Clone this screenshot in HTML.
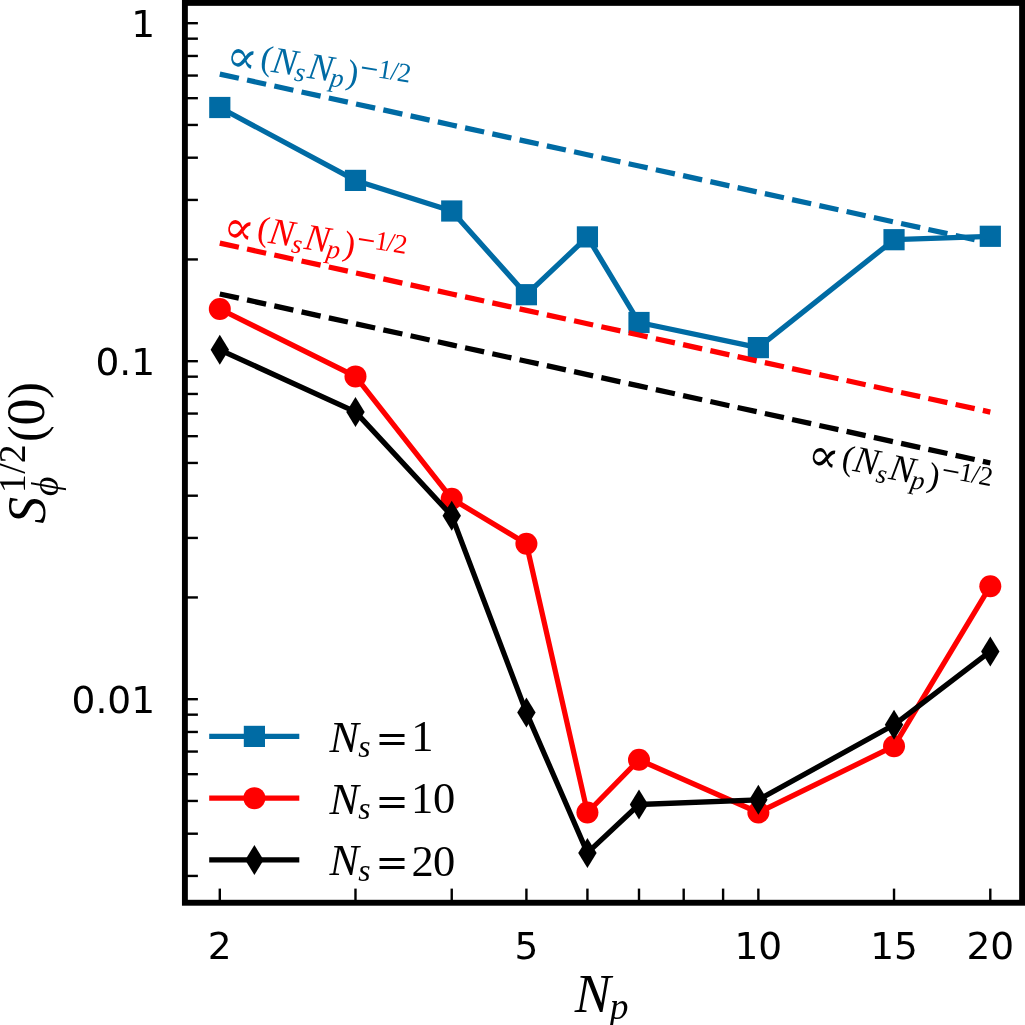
<!DOCTYPE html>
<html><head><meta charset="utf-8"><style>
html,body{margin:0;padding:0;background:#fff;}
svg{display:block;}
</style></head><body>
<svg width="1025" height="1025" viewBox="0 0 1025 1025">
<rect width="1025" height="1025" fill="#fff"/>
<polyline points="219.80,107.50 355.48,180.40 451.74,211.00 526.41,294.70 587.42,236.90 639.00,322.50 758.36,347.60 894.03,239.70 990.30,236.30" fill="none" stroke="#006BA4" stroke-width="5.26" stroke-linejoin="round" stroke-linecap="butt"/><rect x="209.20" y="96.90" width="21.20" height="21.20" fill="#006BA4"/><rect x="344.88" y="169.80" width="21.20" height="21.20" fill="#006BA4"/><rect x="441.14" y="200.40" width="21.20" height="21.20" fill="#006BA4"/><rect x="515.81" y="284.10" width="21.20" height="21.20" fill="#006BA4"/><rect x="576.82" y="226.30" width="21.20" height="21.20" fill="#006BA4"/><rect x="628.40" y="311.90" width="21.20" height="21.20" fill="#006BA4"/><rect x="747.76" y="337.00" width="21.20" height="21.20" fill="#006BA4"/><rect x="883.43" y="229.10" width="21.20" height="21.20" fill="#006BA4"/><rect x="979.70" y="225.70" width="21.20" height="21.20" fill="#006BA4"/>
<polyline points="219.80,74.07 355.48,103.83 451.74,124.95 526.41,141.33 587.42,154.71 639.00,166.02 758.36,192.20 894.03,221.96 990.30,243.07" fill="none" stroke="#006BA4" stroke-width="5.26" stroke-dasharray="19.5 8.4" stroke-linecap="butt"/>
<polyline points="219.80,309.00 355.48,376.40 451.74,498.70 526.41,543.80 587.42,812.50 639.00,759.80 758.36,812.50 894.03,746.20 990.30,586.20" fill="none" stroke="#FF0000" stroke-width="5.26" stroke-linejoin="round" stroke-linecap="butt"/><circle cx="219.80" cy="309.00" r="11" fill="#FF0000"/><circle cx="355.48" cy="376.40" r="11" fill="#FF0000"/><circle cx="451.74" cy="498.70" r="11" fill="#FF0000"/><circle cx="526.41" cy="543.80" r="11" fill="#FF0000"/><circle cx="587.42" cy="812.50" r="11" fill="#FF0000"/><circle cx="639.00" cy="759.80" r="11" fill="#FF0000"/><circle cx="758.36" cy="812.50" r="11" fill="#FF0000"/><circle cx="894.03" cy="746.20" r="11" fill="#FF0000"/><circle cx="990.30" cy="586.20" r="11" fill="#FF0000"/>
<polyline points="219.80,243.07 355.48,272.83 451.74,293.95 526.41,310.33 587.42,323.71 639.00,335.02 758.36,361.20 894.03,390.96 990.30,412.07" fill="none" stroke="#FF0000" stroke-width="5.26" stroke-dasharray="19.5 8.4" stroke-linecap="butt"/>
<polyline points="219.80,349.85 355.48,411.90 451.74,515.70 526.41,712.60 587.42,852.90 639.00,804.50 758.36,799.80 894.03,724.80 990.30,651.40" fill="none" stroke="#000000" stroke-width="5.26" stroke-linejoin="round" stroke-linecap="butt"/><polygon points="219.80,334.85 229.00,349.85 219.80,364.85 210.60,349.85" fill="#000000"/><polygon points="355.48,396.90 364.68,411.90 355.48,426.90 346.28,411.90" fill="#000000"/><polygon points="451.74,500.70 460.94,515.70 451.74,530.70 442.54,515.70" fill="#000000"/><polygon points="526.41,697.60 535.61,712.60 526.41,727.60 517.21,712.60" fill="#000000"/><polygon points="587.42,837.90 596.62,852.90 587.42,867.90 578.22,852.90" fill="#000000"/><polygon points="639.00,789.50 648.20,804.50 639.00,819.50 629.80,804.50" fill="#000000"/><polygon points="758.36,784.80 767.56,799.80 758.36,814.80 749.16,799.80" fill="#000000"/><polygon points="894.03,709.80 903.23,724.80 894.03,739.80 884.83,724.80" fill="#000000"/><polygon points="990.30,636.40 999.50,651.40 990.30,666.40 981.10,651.40" fill="#000000"/>
<polyline points="219.80,293.95 355.48,323.71 451.74,344.82 526.41,361.20 587.42,374.58 639.00,385.90 758.36,412.07 894.03,441.83 990.30,462.95" fill="none" stroke="#000000" stroke-width="5.26" stroke-dasharray="19.5 8.4" stroke-linecap="butt"/>
<g stroke="#000" stroke-width="2.4"><line x1="187" y1="875.93" x2="197.9" y2="875.93"/><line x1="187" y1="833.70" x2="197.9" y2="833.70"/><line x1="187" y1="800.95" x2="197.9" y2="800.95"/><line x1="187" y1="774.18" x2="197.9" y2="774.18"/><line x1="187" y1="751.56" x2="197.9" y2="751.56"/><line x1="187" y1="731.96" x2="197.9" y2="731.96"/><line x1="187" y1="714.67" x2="197.9" y2="714.67"/><line x1="187" y1="699.20" x2="197.9" y2="699.20"/><line x1="187" y1="597.45" x2="197.9" y2="597.45"/><line x1="187" y1="537.93" x2="197.9" y2="537.93"/><line x1="187" y1="495.70" x2="197.9" y2="495.70"/><line x1="187" y1="462.95" x2="197.9" y2="462.95"/><line x1="187" y1="436.18" x2="197.9" y2="436.18"/><line x1="187" y1="413.56" x2="197.9" y2="413.56"/><line x1="187" y1="393.96" x2="197.9" y2="393.96"/><line x1="187" y1="376.67" x2="197.9" y2="376.67"/><line x1="187" y1="361.20" x2="197.9" y2="361.20"/><line x1="187" y1="259.45" x2="197.9" y2="259.45"/><line x1="187" y1="199.93" x2="197.9" y2="199.93"/><line x1="187" y1="157.70" x2="197.9" y2="157.70"/><line x1="187" y1="124.95" x2="197.9" y2="124.95"/><line x1="187" y1="98.18" x2="197.9" y2="98.18"/><line x1="187" y1="75.56" x2="197.9" y2="75.56"/><line x1="187" y1="55.96" x2="197.9" y2="55.96"/><line x1="187" y1="38.67" x2="197.9" y2="38.67"/><line x1="187" y1="23.20" x2="197.9" y2="23.20"/><line x1="219.80" y1="900" x2="219.80" y2="888.6"/><line x1="355.48" y1="900" x2="355.48" y2="888.6"/><line x1="451.74" y1="900" x2="451.74" y2="888.6"/><line x1="526.41" y1="900" x2="526.41" y2="888.6"/><line x1="587.42" y1="900" x2="587.42" y2="888.6"/><line x1="639.00" y1="900" x2="639.00" y2="888.6"/><line x1="683.69" y1="900" x2="683.69" y2="888.6"/><line x1="723.10" y1="900" x2="723.10" y2="888.6"/><line x1="758.36" y1="900" x2="758.36" y2="888.6"/><line x1="894.03" y1="900" x2="894.03" y2="888.6"/><line x1="990.30" y1="900" x2="990.30" y2="888.6"/></g>
<rect x="184.9" y="2.9" width="837.2" height="899.85" fill="none" stroke="#000" stroke-width="5.9"/>
<g font-family="'DejaVu Sans', sans-serif" font-size="37.5" fill="#000"><text x="155.1" y="36.90" text-anchor="end">1</text><text x="155.1" y="374.90" text-anchor="end">0.1</text><text x="155.1" y="712.90" text-anchor="end">0.01</text><text x="219.80" y="959.4" text-anchor="middle">2</text><text x="526.41" y="959.4" text-anchor="middle">5</text><text x="758.36" y="959.4" text-anchor="middle">10</text><text x="894.03" y="959.4" text-anchor="middle">15</text><text x="990.30" y="959.4" text-anchor="middle">20</text></g>
<line x1="209.2" y1="736.40" x2="299.3" y2="736.40" stroke="#006BA4" stroke-width="5.26"/><rect x="243.80" y="725.80" width="21.20" height="21.20" fill="#006BA4"/><line x1="209.2" y1="798.15" x2="299.3" y2="798.15" stroke="#FF0000" stroke-width="5.26"/><circle cx="254.40" cy="798.15" r="11" fill="#FF0000"/><line x1="209.2" y1="859.90" x2="299.3" y2="859.90" stroke="#000000" stroke-width="5.26"/><polygon points="254.40,844.90 263.60,859.90 254.40,874.90 245.20,859.90" fill="#000000"/>
<text transform="translate(231.00,64.40) rotate(9.20)" fill="#006BA4"><tspan x="-5.82" y="6.01" font-family="&quot;DejaVu Serif&quot;, serif" font-size="46.00">&#x221d;</tspan><tspan x="28.60" y="-0.58" font-family="&quot;Liberation Serif&quot;, serif" font-size="35.00">(</tspan><tspan x="40.06" y="0.96" font-family="&quot;Liberation Serif&quot;, serif" font-size="37.50" font-style="italic">N</tspan><tspan x="64.23" y="5.74" font-family="&quot;Liberation Serif&quot;, serif" font-size="27.00" font-style="italic">s</tspan><tspan x="76.63" y="1.17" font-family="&quot;Liberation Serif&quot;, serif" font-size="37.50" font-style="italic">N</tspan><tspan x="100.29" y="5.49" font-family="&quot;Liberation Serif&quot;, serif" font-size="27.00" font-style="italic">p</tspan><tspan x="115.89" y="0.14" font-family="&quot;Liberation Serif&quot;, serif" font-size="35.00">)</tspan><tspan x="127.21" y="-10.30" font-family="&quot;DejaVu Serif&quot;, serif" font-size="24.00">&#x2212;</tspan><tspan x="146.25" y="-10.73" font-family="&quot;Liberation Serif&quot;, serif" font-size="27.00">1</tspan><tspan x="158.89" y="-10.81" font-family="&quot;Liberation Serif&quot;, serif" font-size="27.00">/</tspan><tspan x="165.73" y="-10.57" font-family="&quot;Liberation Serif&quot;, serif" font-size="27.00">2</tspan></text>
<text transform="translate(227.58,235.60) rotate(9.20)" fill="#FF0000"><tspan x="-5.54" y="5.72" font-family="&quot;DejaVu Serif&quot;, serif" font-size="46.00">&#x221d;</tspan><tspan x="28.73" y="-0.86" font-family="&quot;Liberation Serif&quot;, serif" font-size="35.00">(</tspan><tspan x="40.52" y="0.77" font-family="&quot;Liberation Serif&quot;, serif" font-size="37.50" font-style="italic">N</tspan><tspan x="64.82" y="6.16" font-family="&quot;Liberation Serif&quot;, serif" font-size="27.00" font-style="italic">s</tspan><tspan x="76.85" y="0.88" font-family="&quot;Liberation Serif&quot;, serif" font-size="37.50" font-style="italic">N</tspan><tspan x="100.21" y="5.57" font-family="&quot;Liberation Serif&quot;, serif" font-size="27.00" font-style="italic">p</tspan><tspan x="116.02" y="0.04" font-family="&quot;Liberation Serif&quot;, serif" font-size="35.00">)</tspan><tspan x="127.75" y="-10.16" font-family="&quot;DejaVu Serif&quot;, serif" font-size="24.00">&#x2212;</tspan><tspan x="146.49" y="-10.52" font-family="&quot;Liberation Serif&quot;, serif" font-size="27.00">1</tspan><tspan x="158.63" y="-10.58" font-family="&quot;Liberation Serif&quot;, serif" font-size="27.00">/</tspan><tspan x="165.44" y="-10.55" font-family="&quot;Liberation Serif&quot;, serif" font-size="27.00">2</tspan></text>
<text transform="translate(812.45,463.46) rotate(10.65)" fill="#000000"><tspan x="-5.93" y="5.66" font-family="&quot;DejaVu Serif&quot;, serif" font-size="46.00">&#x221d;</tspan><tspan x="28.51" y="-0.60" font-family="&quot;Liberation Serif&quot;, serif" font-size="35.00">(</tspan><tspan x="40.14" y="-0.04" font-family="&quot;Liberation Serif&quot;, serif" font-size="37.50" font-style="italic">N</tspan><tspan x="64.82" y="6.53" font-family="&quot;Liberation Serif&quot;, serif" font-size="27.00" font-style="italic">s</tspan><tspan x="76.75" y="1.21" font-family="&quot;Liberation Serif&quot;, serif" font-size="37.50" font-style="italic">N</tspan><tspan x="100.22" y="6.09" font-family="&quot;Liberation Serif&quot;, serif" font-size="27.00" font-style="italic">p</tspan><tspan x="116.07" y="0.74" font-family="&quot;Liberation Serif&quot;, serif" font-size="35.00">)</tspan><tspan x="127.64" y="-10.49" font-family="&quot;DejaVu Serif&quot;, serif" font-size="24.00">&#x2212;</tspan><tspan x="146.13" y="-10.74" font-family="&quot;Liberation Serif&quot;, serif" font-size="27.00">1</tspan><tspan x="158.83" y="-10.82" font-family="&quot;Liberation Serif&quot;, serif" font-size="27.00">/</tspan><tspan x="166.22" y="-10.69" font-family="&quot;Liberation Serif&quot;, serif" font-size="27.00">2</tspan></text>
<text transform="translate(43.80,523.40) rotate(-90.00)" fill="#000"><tspan x="-0.41" y="0.90" font-family="&quot;Liberation Serif&quot;, serif" font-size="54.00" font-style="italic">S</tspan><tspan x="30.46" y="-19.00" font-family="&quot;Liberation Serif&quot;, serif" font-size="37.50">1</tspan><tspan x="49.73" y="-18.92" font-family="&quot;Liberation Serif&quot;, serif" font-size="37.50">/</tspan><tspan x="60.04" y="-19.00" font-family="&quot;Liberation Serif&quot;, serif" font-size="37.50">2</tspan><tspan x="27.34" y="14.00" font-family="&quot;Liberation Serif&quot;, serif" font-size="37.50" font-style="italic">&#x3d5;</tspan><tspan x="81.29" y="-0.84" font-family="&quot;Liberation Serif&quot;, serif" font-size="50.00">(</tspan><tspan x="97.94" y="0.05" font-family="&quot;Liberation Serif&quot;, serif" font-size="54.00">0</tspan><tspan x="124.60" y="-0.94" font-family="&quot;Liberation Serif&quot;, serif" font-size="50.00">)</tspan></text>
<text fill="#000"><tspan x="574.64" y="1011.78" font-family="&quot;Liberation Serif&quot;, serif" font-size="54.00" font-style="italic">N</tspan><tspan x="609.71" y="1018.84" font-family="&quot;Liberation Serif&quot;, serif" font-size="37.50" font-style="italic">p</tspan></text>
<text fill="#000"><tspan x="329.60" y="751.82" font-family="&quot;Liberation Serif&quot;, serif" font-size="44.00" font-style="italic">N</tspan><tspan x="358.17" y="757.32" font-family="&quot;Liberation Serif&quot;, serif" font-size="31.50" font-style="italic">s</tspan><tspan x="375.35" y="752.06" font-family="&quot;DejaVu Serif&quot;, serif" font-size="40.00">=</tspan><tspan x="411.33" y="751.48" font-family="&quot;Liberation Serif&quot;, serif" font-size="44.50">1</tspan></text>
<text fill="#000"><tspan x="329.61" y="813.98" font-family="&quot;Liberation Serif&quot;, serif" font-size="44.00" font-style="italic">N</tspan><tspan x="358.22" y="818.68" font-family="&quot;Liberation Serif&quot;, serif" font-size="31.50" font-style="italic">s</tspan><tspan x="375.22" y="814.62" font-family="&quot;DejaVu Serif&quot;, serif" font-size="40.00">=</tspan><tspan x="411.04" y="812.78" font-family="&quot;Liberation Serif&quot;, serif" font-size="44.50">1</tspan><tspan x="433.04" y="813.18" font-family="&quot;Liberation Serif&quot;, serif" font-size="44.50">0</tspan></text>
<text fill="#000"><tspan x="329.61" y="875.34" font-family="&quot;Liberation Serif&quot;, serif" font-size="44.00" font-style="italic">N</tspan><tspan x="358.22" y="880.84" font-family="&quot;Liberation Serif&quot;, serif" font-size="31.50" font-style="italic">s</tspan><tspan x="375.22" y="876.18" font-family="&quot;DejaVu Serif&quot;, serif" font-size="40.00">=</tspan><tspan x="411.50" y="875.52" font-family="&quot;Liberation Serif&quot;, serif" font-size="44.50">2</tspan><tspan x="433.04" y="875.54" font-family="&quot;Liberation Serif&quot;, serif" font-size="44.50">0</tspan></text>
</svg>
</body></html>
